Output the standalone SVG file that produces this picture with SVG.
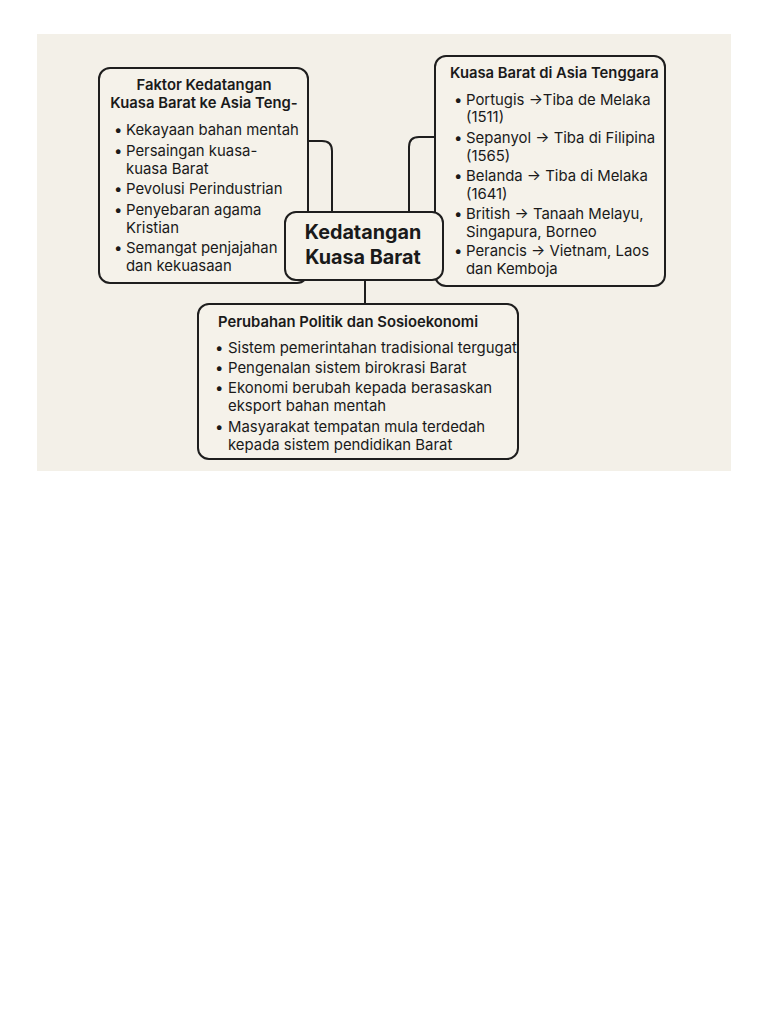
<svg xmlns="http://www.w3.org/2000/svg" width="768" height="1024" viewBox="0 0 768 1024">
<style>
.box{fill:#f5f2ea;stroke:#1e1e1e;stroke-width:2}
.con{fill:none;stroke:#1e1e1e;stroke-width:2}
text{font-family:Inter,"Noto Sans","Liberation Sans",sans-serif;fill:#1a1a1a}
.t{font-weight:600;font-size:14.8px}
.i{font-size:14.9px}
.c{font-weight:700;font-size:19.8px}
</style>
<rect x="0" y="0" width="768" height="1024" fill="#ffffff"/>
<rect x="37" y="34" width="694" height="437" fill="#f3f0e8"/>
<g id="connectors">
<path class="con" d="M308 141 H322 Q332 141 332 151 V212"/>
<path class="con" d="M435 137 H419 Q409 137 409 147 V212"/>
<path class="con" d="M365 280 V304"/>
</g>
<g id="left">
<rect class="box" x="99" y="68" width="209" height="215" rx="11"/>
<text class="t" x="204" y="90" text-anchor="middle">Faktor Kedatangan</text>
<text class="t" x="204" y="108" text-anchor="middle">Kuasa Barat ke Asia Teng-</text>
<g class="i">
<text x="114" y="135">•</text><text x="126" y="135">Kekayaan bahan mentah</text>
<text x="114" y="156">•</text><text x="126" y="156">Persaingan kuasa-</text>
<text x="126" y="174">kuasa Barat</text>
<text x="114" y="194">•</text><text x="126" y="194">Pevolusi Perindustrian</text>
<text x="114" y="215">•</text><text x="126" y="215">Penyebaran agama</text>
<text x="126" y="233">Kristian</text>
<text x="114" y="253">•</text><text x="126" y="253">Semangat penjajahan</text>
<text x="126" y="271">dan kekuasaan</text>
</g>
</g>
<g id="right">
<rect class="box" x="435" y="56" width="230" height="230" rx="11"/>
<text class="t" x="450" y="78">Kuasa Barat di Asia Tenggara</text>
<g class="i">
<text x="454" y="105">•</text><text x="466" y="105">Portugis →Tiba de Melaka</text>
<text x="466" y="122">(1511)</text>
<text x="454" y="143">•</text><text x="466" y="143">Sepanyol → Tiba di Filipina</text>
<text x="466" y="161">(1565)</text>
<text x="454" y="181">•</text><text x="466" y="181">Belanda → Tiba di Melaka</text>
<text x="466" y="199">(1641)</text>
<text x="454" y="219">•</text><text x="466" y="219">British → Tanaah Melayu,</text>
<text x="466" y="237">Singapura, Borneo</text>
<text x="454" y="256">•</text><text x="466" y="256">Perancis → Vietnam, Laos</text>
<text x="466" y="274">dan Kemboja</text>
</g>
</g>
<g id="center">
<rect class="box" x="285" y="212" width="158" height="68" rx="11"/>
<text class="c" x="363" y="239" text-anchor="middle">Kedatangan</text>
<text class="c" x="363" y="264" text-anchor="middle">Kuasa Barat</text>
</g>
<g id="bottom">
<rect class="box" x="198" y="304" width="320" height="155" rx="11"/>
<text class="t" x="218" y="327">Perubahan Politik dan Sosioekonomi</text>
<g class="i">
<text x="215" y="353">•</text><text x="228" y="353">Sistem pemerintahan tradisional tergugat</text>
<text x="215" y="373">•</text><text x="228" y="373">Pengenalan sistem birokrasi Barat</text>
<text x="215" y="393">•</text><text x="228" y="393">Ekonomi berubah kepada berasaskan</text>
<text x="228" y="411">eksport bahan mentah</text>
<text x="215" y="432">•</text><text x="228" y="432">Masyarakat tempatan mula terdedah</text>
<text x="228" y="450">kepada sistem pendidikan Barat</text>
</g>
</g>
</svg>
